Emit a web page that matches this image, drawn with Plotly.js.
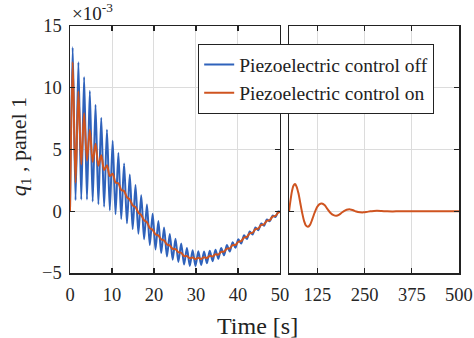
<!DOCTYPE html>
<html>
<head>
<meta charset="utf-8">
<script src="https://cdn.plot.ly/plotly-3.0.1.min.js"></script>
<style>html,body{margin:0;padding:0;background:#fff}#chart{width:474px;height:338px}</style>
</head>
<body>
<div id="chart"></div>
<script>
// Time samples (s) for the first panel: start, alternate peaks/troughs of the fast mode, end
var timeLeft = [0, 0.64, 1.32, 2.00, 2.68, 3.36, 4.04, 4.72, 5.40, 6.08, 6.76, 7.44, 8.12, 8.80, 9.48,
  10.16, 10.84, 11.52, 12.20, 12.88, 13.56, 14.24, 14.92, 15.60, 16.28, 16.96, 17.64, 18.32, 19.00,
  19.68, 20.36, 21.04, 21.72, 22.40, 23.08, 23.76, 24.44, 25.12, 25.80, 26.48, 27.16, 27.84, 28.52,
  29.20, 29.88, 30.56, 31.24, 31.92, 32.60, 33.28, 33.96, 34.64, 35.32, 36.00, 36.68, 37.36, 38.04,
  38.72, 39.40, 40.08, 40.76, 41.44, 42.12, 42.80, 43.48, 44.16, 44.84, 45.52, 46.20, 46.88, 47.56,
  48.24, 48.92, 49.60, 50.00];
// q1 (x 1e-3), piezoelectric control off
var controlOff = [0, 13.27, 0.90, 12.07, 0.95, 10.87, 0.95, 9.75, 0.78, 8.63, 0.56, 7.58, 0.36, 6.60, 0.08,
  5.70, -0.25, 4.72, -0.63, 3.87, -0.98, 2.97, -1.44, 2.13, -1.82, 1.30, -2.26, 0.55, -2.73,
  -0.21, -3.10, -0.79, -3.38, -1.32, -3.66, -1.84, -3.92, -2.23, -4.10, -2.62, -4.32, -2.97, -4.43,
  -3.16, -4.43, -3.24, -4.36, -3.26, -4.22, -3.20, -4.04, -3.12, -3.85, -2.97, -3.57, -2.74, -3.26,
  -2.51, -2.96, -2.26, -2.62, -1.94, -2.25, -1.63, -1.89, -1.31, -1.53, -0.99, -1.17, -0.67, -0.81,
  -0.35, -0.46, -0.02, -0.05];
// q1 (x 1e-3), piezoelectric control on
var controlOn = [0, 12.08, 2.30, 9.72, 3.78, 7.94, 4.10, 6.60, 4.00, 5.46, 3.68, 4.53, 3.33, 3.72, 2.85,
  3.03, 2.32, 2.27, 1.72, 1.64, 1.14, 0.95, 0.47, 0.33, -0.11, -0.31, -0.73, -0.89, -1.37,
  -1.50, -1.88, -1.95, -2.28, -2.36, -2.68, -2.77, -3.05, -3.06, -3.32, -3.36, -3.63, -3.62, -3.81,
  -3.74, -3.88, -3.76, -3.87, -3.72, -3.79, -3.61, -3.66, -3.48, -3.51, -3.29, -3.27, -3.02, -3.00,
  -2.75, -2.73, -2.47, -2.42, -2.13, -2.08, -1.79, -1.74, -1.45, -1.40, -1.11, -1.06, -0.77, -0.72,
  -0.43, -0.38, -0.09, -0.05];
// Second panel (t = 50 ... 500 s), control on
var timeRight = [50, 52, 55, 58, 62, 66, 70, 75, 80, 85, 90, 95, 100, 106, 112, 118, 124, 130, 137, 144,
  152, 160, 168, 175, 183, 191, 199, 206, 212, 220, 228, 238, 247, 256, 265, 275, 283, 295, 310, 325,
  340, 360, 380, 420, 460, 500];
var controlOnRight = [-0.05, 0.45, 1.10, 1.65, 2.08, 2.20, 2.00, 1.45, 0.65, -0.15, -0.80, -1.17, -1.26,
  -1.08, -0.62, -0.10, 0.32, 0.56, 0.63, 0.50, 0.17, -0.14, -0.32, -0.37, -0.27, -0.08, 0.07, 0.14,
  0.15, 0.08, -0.02, -0.08, -0.09, -0.05, 0.00, 0.03, 0.04, 0.02, -0.01, -0.02, 0.00, 0.01, 0, 0, 0, 0];

var seriesNames = ['Piezoelectric control off', 'Piezoelectric control on'];
var leftTicks = [0, 10, 20, 30, 40, 50];
var rightTicks = [125, 250, 375, 500];
var yTicks = [-5, 0, 5, 10, 15];

var BLUE = '#2f62bb', ORANGE = '#cf5420';
var FONT = 'Liberation Serif, Times New Roman, serif';

var traces = [
  {x: timeLeft, y: controlOff, xaxis: 'x', yaxis: 'y', mode: 'lines', name: seriesNames[0],
   line: {color: BLUE, width: 2, shape: 'spline', smoothing: 0.8}},
  {x: timeLeft, y: controlOn, xaxis: 'x', yaxis: 'y', mode: 'lines', name: seriesNames[1],
   line: {color: ORANGE, width: 2, shape: 'spline', smoothing: 0.8}},
  {x: timeRight, y: controlOnRight, xaxis: 'x2', yaxis: 'y2', mode: 'lines', name: seriesNames[1],
   showlegend: false, line: {color: ORANGE, width: 2, shape: 'spline', smoothing: 0.8}}
];

var axBase = {showline: true, linecolor: '#222', linewidth: 1.5, mirror: 'ticks', ticks: 'inside',
  ticklen: 5, tickcolor: '#222', tickwidth: 1.2, showgrid: true, gridcolor: '#dcdcdc', gridwidth: 1,
  zeroline: false, tickfont: {family: FONT, size: 18.5, color: '#262626'}};

function ext(o) { var r = {}; for (var k in axBase) r[k] = axBase[k]; for (var k2 in o) r[k2] = o[k2]; return r; }

var layout = {
  width: 474, height: 338,
  margin: {l: 70, r: 15, t: 26, b: 65},
  paper_bgcolor: '#fff', plot_bgcolor: '#fff',
  font: {family: FONT, color: '#222'},
  showlegend: true,
  legend: {x: 0.329, y: 0.927, xanchor: 'left', yanchor: 'top', bgcolor: '#fff',
    bordercolor: '#222', borderwidth: 1.2, font: {family: FONT, size: 19.5, color: '#222'},
    itemwidth: 30, tracegroupgap: 0},
  xaxis: ext({domain: [0, 0.5398], range: [0, 50], tickvals: leftTicks, anchor: 'y', ticklabelstandoff: 4}),
  yaxis: ext({domain: [0, 1], range: [-5, 15], tickvals: yTicks, anchor: 'x', ticklabelstandoff: 3}),
  xaxis2: ext({domain: [0.563, 1], range: [50, 500], tickvals: rightTicks, anchor: 'y2', ticklabelstandoff: 4}),
  yaxis2: ext({domain: [0, 1], range: [-5, 15], tickvals: yTicks, anchor: 'x2', showticklabels: false}),
  annotations: [
    {text: 'Time [s]', xref: 'paper', yref: 'paper', x: 0.483, y: -0.2146, xanchor: 'center',
     yanchor: 'middle', showarrow: false, font: {family: FONT, size: 24, color: '#222'}},
    {text: '<i>q</i><sub>1</sub> , panel 1', xref: 'paper', yref: 'paper', x: -0.128, y: 0.51,
     xanchor: 'center', yanchor: 'middle', textangle: -90, showarrow: false,
     font: {family: FONT, size: 22, color: '#222'}},
    {text: '\u00d710<sup>-3</sup>', xref: 'paper', yref: 'paper', x: 0.0, y: 1.0, xanchor: 'left',
     yanchor: 'bottom', showarrow: false, font: {family: FONT, size: 19, color: '#222'}}
  ]
};

Plotly.newPlot('chart', traces, layout, {staticPlot: true, displayModeBar: false});
</script>
</body>
</html>
